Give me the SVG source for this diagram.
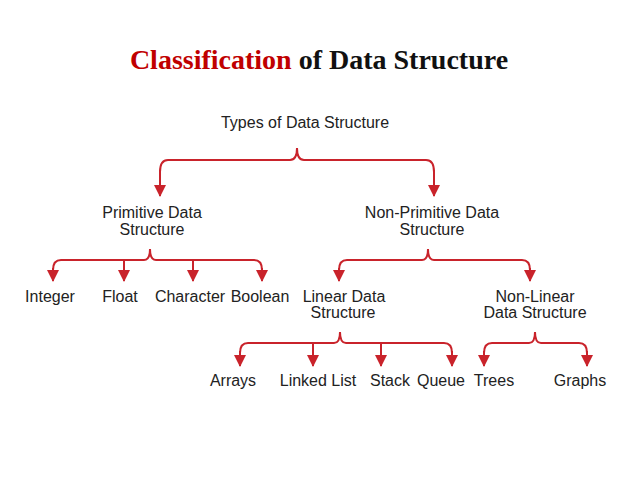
<svg xmlns="http://www.w3.org/2000/svg" width="638" height="478" viewBox="0 0 638 478">
<style>
.t{font-family:"Liberation Sans",Arial,sans-serif;font-size:16px;fill:#222;text-anchor:middle}
.c{fill:none;stroke:#c9232b;stroke-width:2;marker-end:url(#a)}
.b{fill:none;stroke:#c9232b;stroke-width:2}
</style>
<defs><marker id="a" markerWidth="12" markerHeight="12" refX="11" refY="6" orient="auto" markerUnits="userSpaceOnUse" viewBox="0 0 12 12"><path d="M0,0 L12,6 L0,12 Z" fill="#c9232b"/></marker></defs>
<rect width="638" height="478" fill="#fff"/>
<text x="319" y="69" text-anchor="middle" font-family="Liberation Serif,serif" font-weight="bold" font-size="28"><tspan fill="#c00000">Classification</tspan><tspan fill="#111"> of Data Structure</tspan></text>
<g id="connectors">
<path class="b" d="M160,172 Q160,160 168,160 L290,160 Q297,160 297,148 Q297,160 304,160 L426,160 Q434,160 434,172"/>
<path class="c" d="M160,170 L160,196" /><path class="c" d="M434,170 L434,196"/>
<path class="b" d="M53,270 Q53,260 61,260 L144,260 Q150,260 150,249 Q150,260 156,260 L254,260 Q262,260 262,270"/>
<path class="c" d="M53,268 L53,281"/><path class="c" d="M124,260 L124,281"/><path class="c" d="M193,260 L193,281"/><path class="c" d="M262,268 L262,281"/>
<path class="b" d="M339,270 Q339,260 347,260 L422,260 Q428,260 428,249 Q428,260 434,260 L522,260 Q530,260 530,270"/>
<path class="c" d="M339,268 L339,281"/><path class="c" d="M530,268 L530,281"/>
<path class="b" d="M240,353 Q240,343 248,343 L334,343 Q340,343 340,332 Q340,343 346,343 L444,343 Q452,343 452,353"/>
<path class="c" d="M240,351 L240,366"/><path class="c" d="M313,343 L313,366"/><path class="c" d="M381,343 L381,366"/><path class="c" d="M452,351 L452,366"/>
<path class="b" d="M484,353 Q484,343 492,343 L529,343 Q535,343 535,332 Q535,343 541,343 L579,343 Q587,343 587,353"/>
<path class="c" d="M484,351 L484,366"/><path class="c" d="M587,351 L587,366"/>
</g>
<g id="root"><text class="t" x="305" y="128">Types of Data Structure</text></g>
<g id="primitive"><text class="t" x="152" y="218">Primitive Data</text><text class="t" x="152" y="235">Structure</text></g>
<g id="nonprimitive"><text class="t" x="432" y="218">Non-Primitive Data</text><text class="t" x="432" y="235">Structure</text></g>
<g id="integer"><text class="t" x="50" y="302">Integer</text></g>
<g id="float"><text class="t" x="120" y="302">Float</text></g>
<g id="character"><text class="t" x="190" y="302">Character</text></g>
<g id="boolean"><text class="t" x="260" y="302">Boolean</text></g>
<g id="linear"><text class="t" x="344" y="302">Linear Data</text><text class="t" x="343" y="318">Structure</text></g>
<g id="nonlinear"><text class="t" x="535" y="302">Non-Linear</text><text class="t" x="535" y="318">Data Structure</text></g>
<g id="arrays"><text class="t" x="233" y="386">Arrays</text></g>
<g id="linkedlist"><text class="t" x="318" y="386">Linked List</text></g>
<g id="stack"><text class="t" x="390" y="386">Stack</text></g>
<g id="queue"><text class="t" x="441" y="386">Queue</text></g>
<g id="trees"><text class="t" x="494" y="386">Trees</text></g>
<g id="graphs"><text class="t" x="580" y="386">Graphs</text></g>
</svg>
